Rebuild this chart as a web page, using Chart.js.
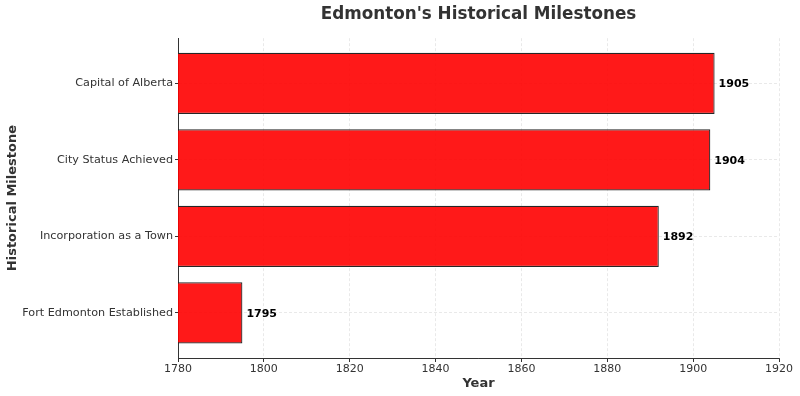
<!DOCTYPE html>
<html>
<head>
<meta charset="utf-8">
<title>Edmonton's Historical Milestones</title>
<script src="https://cdn.jsdelivr.net/npm/chart.js@4.4.1/dist/chart.umd.min.js"></script>
<style>
    html, body { margin: 0; padding: 0; background: #fff; }
    #wrap { width: 800px; height: 396px; }
</style>
</head>
<body>
<div id="wrap"><canvas id="myChart" width="800" height="396"></canvas></div>
<script>
// bottom to top, same order as the y axis
const milestones = ['Fort Edmonton Established', 'Incorporation as a Town', 'City Status Achieved', 'Capital of Alberta'];
const years = [1795, 1892, 1904, 1905];
const yearTicks = [1780, 1800, 1820, 1840, 1860, 1880, 1900, 1920];

const fuente = "'DejaVu Sans', sans-serif";
const grisTexto = '#333333';

// writes the year at the end of each bar
const etiquetasValor = {
    id: 'etiquetasValor',
    afterDatasetsDraw(chart) {
        const ctx = chart.ctx;
        const meta = chart.getDatasetMeta(0);
        ctx.save();
        ctx.font = `bold 11px ${fuente}`;
        ctx.fillStyle = '#000';
        ctx.textAlign = 'left';
        ctx.textBaseline = 'middle';
        meta.data.forEach((bar, i) => {
            ctx.fillText(String(years[i]), bar.x + 4, bar.y + 1);
        });
        ctx.restore();
    }
};

function configurarGrafica() {
    const puntos = years.map((valor, i) => ({ x: valor, y: i }));

    return {
        type: 'bar',
        data: {
            datasets: [{
                data: puntos,
                backgroundColor: 'rgba(255, 0, 0, 0.9)',
                borderColor: '#262626',
                borderWidth: 1.2,
                borderSkipped: false,
                barPercentage: 0.8,
                categoryPercentage: 1
            }]
        },
        options: {
            indexAxis: 'y',
            responsive: false,
            animation: false,
            layout: { padding: { left: 0, right: 21, top: 5, bottom: 0 } },
            plugins: {
                legend: { display: false },
                tooltip: { enabled: false },
                title: {
                    display: true,
                    fullSize: false,
                    text: "Edmonton's Historical Milestones",
                    color: grisTexto,
                    font: { family: fuente, size: 16.8, weight: 'bold' },
                    padding: { top: 0, bottom: 13 }
                }
            },
            scales: {
                x: {
                    type: 'linear',
                    min: 1780,
                    max: 1920,
                    afterBuildTicks: (scale) => {
                        scale.ticks = yearTicks.map(v => ({ value: v }));
                    },
                    afterFit: (scale) => { scale.height = 38; },
                    ticks: {
                        color: grisTexto,
                        font: { family: fuente, size: 11 },
                        padding: 1,
                        maxRotation: 0,
                        callback: (v) => String(v)
                    },
                    grid: {
                        color: 'rgba(0, 0, 0, 0.11)',
                        lineWidth: 0.8,
                        tickLength: 4,
                        tickColor: grisTexto,
                        tickWidth: 1,
                        tickBorderDash: []
                    },
                    border: { display: true, color: grisTexto, width: 1, dash: [3, 2] },
                    title: {
                        display: true,
                        text: 'Year',
                        color: grisTexto,
                        font: { family: fuente, size: 13, weight: 'bold' },
                        padding: { top: 0, bottom: 5 }
                    }
                },
                y: {
                    type: 'linear',
                    min: -0.59,
                    max: 3.59,
                    offset: false,
                    afterBuildTicks: (scale) => {
                        scale.ticks = milestones.map((_, i) => ({ value: i }));
                    },
                    afterFit: (scale) => { scale.width = 178; },
                    ticks: {
                        color: grisTexto,
                        font: { family: fuente, size: 11.2 },
                        padding: 2,
                        callback: (v) => milestones[v]
                    },
                    grid: {
                        offset: false,
                        color: 'rgba(0, 0, 0, 0.11)',
                        lineWidth: 0.8,
                        tickLength: 3,
                        tickColor: grisTexto,
                        tickWidth: 1,
                        tickBorderDash: []
                    },
                    border: { display: true, color: grisTexto, width: 1, dash: [3, 2] },
                    title: {
                        display: true,
                        text: 'Historical Milestone',
                        color: grisTexto,
                        font: { family: fuente, size: 13, weight: 'bold' },
                        padding: { top: 5, bottom: 0 }
                    }
                }
            }
        },
        plugins: [etiquetasValor]
    };
}

const chartDOM = document.getElementById('myChart');
window.myChart = new Chart(chartDOM, configurarGrafica());
</script>
</body>
</html>
